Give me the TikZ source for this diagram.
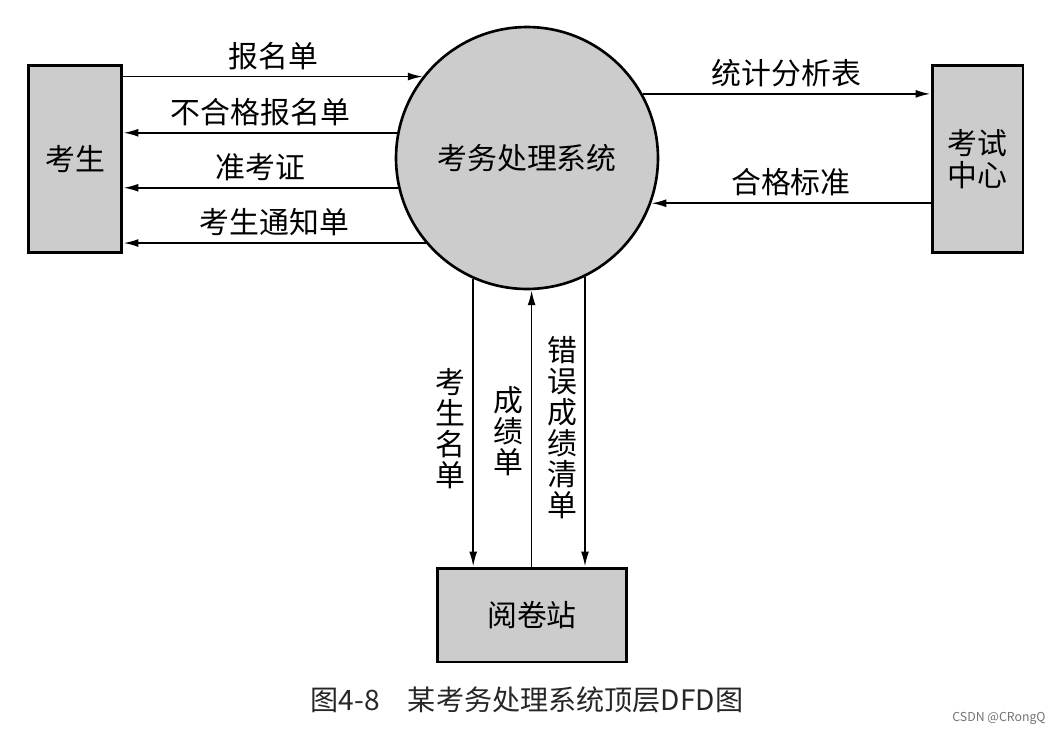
\documentclass[tikz,border=0pt]{standalone}
\usepackage{fontspec}
\setmainfont{Noto Sans CJK SC}
\usetikzlibrary{arrows.meta}

\begin{document}
\begin{tikzpicture}[x=0.02cm, y=-0.02cm,
  every node/.style={font=\fontsize{17}{17.6}\selectfont},
  entity/.style={draw, line width=1.7pt, fill=black!20, inner sep=0pt},
  flow/.style={line width=1pt, -{Latex[length=0.3cm, width=0.16cm]}},
  lbl/.style={inner sep=2pt, align=center}]
\useasboundingbox (0,0) rectangle (1056,735);

% external entities and the process
\node (ks) [entity, minimum width=1.88cm, minimum height=3.76cm] at (75,159) {考生};
\node (zx) [entity, minimum width=1.82cm, minimum height=3.76cm, align=center,
  font=\fontsize{17}{18.5}\selectfont] at (977.5,159) {\\[-4pt]考试\\中心};
\node (yj) [entity, minimum width=3.78cm, minimum height=1.88cm] at (532,615) {阅卷站};
\node (sys) [circle, draw, line width=1.5pt, fill=black!20, minimum size=5.24cm, inner sep=0pt] at (527,158) {考务处理系统};

% flows on the left
\draw [flow] (ks.east |- sys.142.4) -- node (f1) [lbl, midway, above=1.5pt] {报名单} (sys.142.4);
\draw [flow] (sys.169) -- node (f2) [lbl, midway, above=1.5pt] {不合格报名单} (ks.east |- sys.169);
\draw [flow] (sys.193.2) -- node (f3) [lbl, midway, above=1.5pt] {准考证} (ks.east |- sys.193.2);
\draw [flow] (sys.220.5) -- node (f4) [lbl, midway, above=1.5pt] {考生通知单} (ks.east |- sys.220.5);

% flows on the right
\draw [flow] (sys.29.7) -- node (f5) [lbl, midway, above=1.5pt] {统计分析表} (zx.west |- sys.29.7);
\draw [flow] (zx.west |- sys.-20.1) -- node (f6) [lbl, midway, above=1.5pt] {合格标准} (sys.-20.1);

% flows below
\draw [flow] (sys.246.6) -- node (f7) [lbl, pos=0.52, left=2pt] {考\\生\\名\\单} (yj.north -| sys.246.6);
\draw [flow] (yj.north -| sys.272) -- node (f8) [lbl, pos=0.49, left=2pt] {成\\绩\\单} (sys.272);
\draw [flow] (sys.296.8) -- node (f9) [lbl, pos=0.52, left=2pt] {错\\误\\成\\绩\\清\\单} (yj.north -| sys.296.8);

% caption
\node (cap) [text=black!85, font=\fontsize{16}{16}\selectfont] at (527,700) {图4-8\quad 某考务处理系统顶层DFD图};
\node (wm) [text=black!55, font=\fontsize{7}{8}\selectfont] at (999,718) {CSDN @CRongQ};
\end{tikzpicture}
\end{document}
